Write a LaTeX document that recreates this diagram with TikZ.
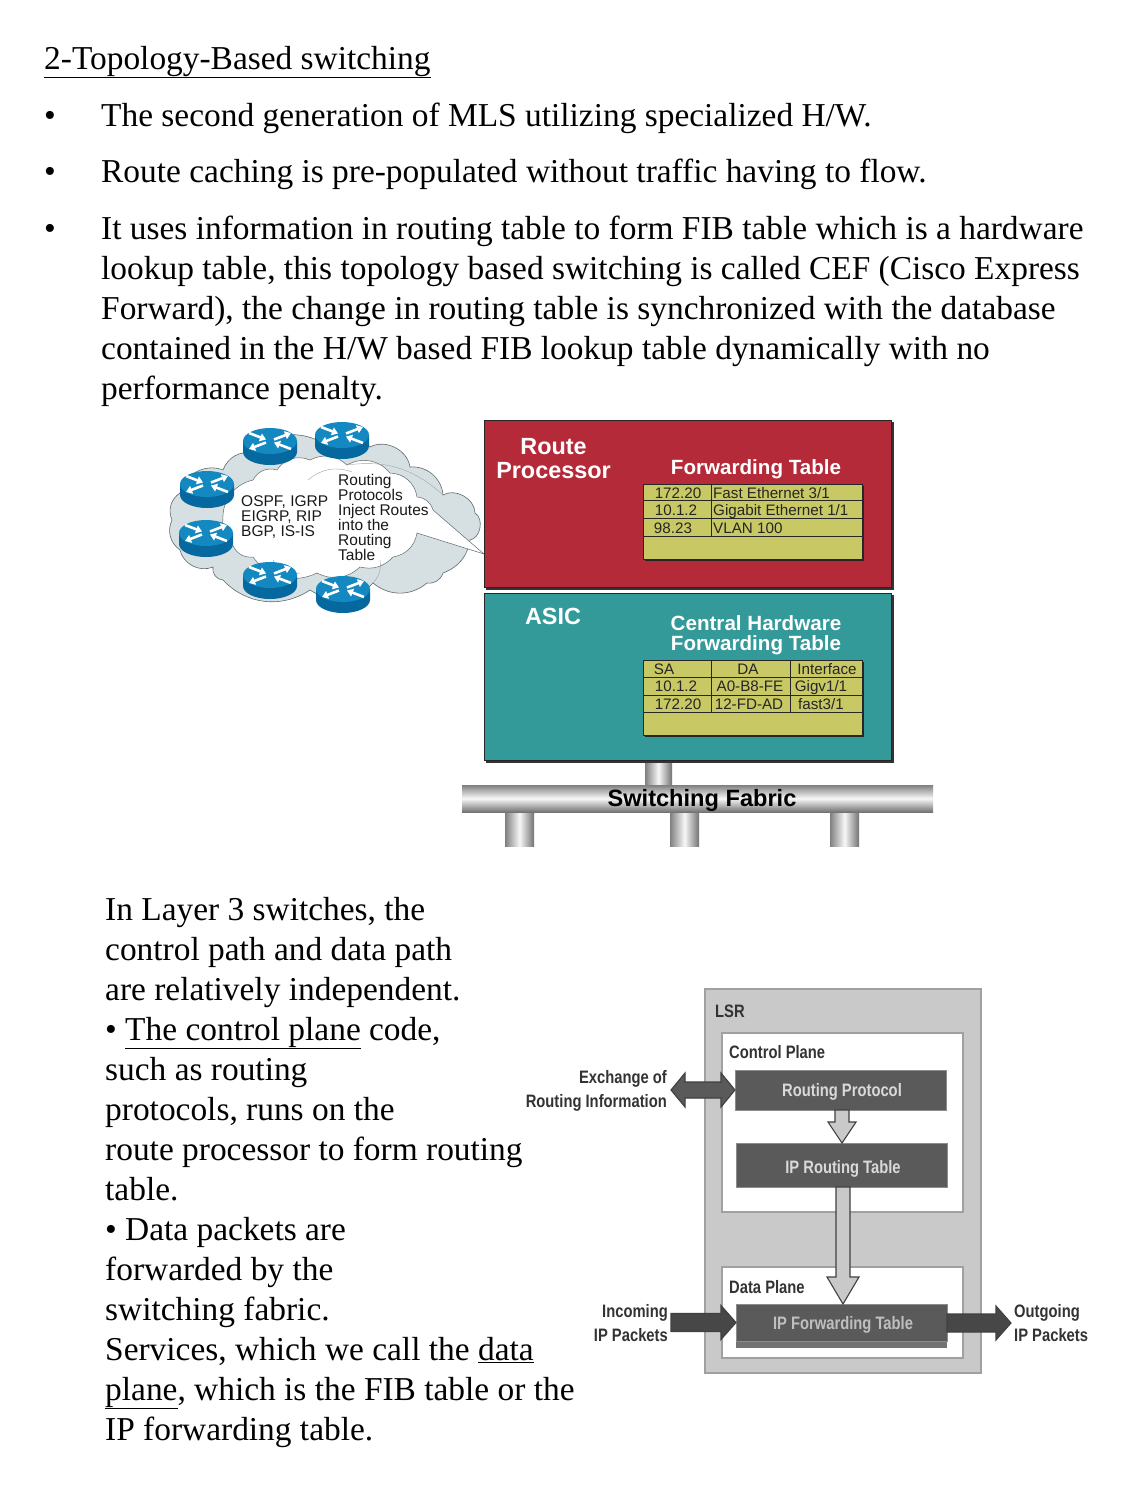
\documentclass[tikz,border=0pt]{standalone}
\usepackage{fontspec}
\setmainfont{Liberation Serif}
\newfontfamily\sansf{Liberation Sans}
\newfontfamily\sansn[FakeStretch=0.82]{Liberation Sans}
\usetikzlibrary{calc,arrows.meta}
\definecolor{rpred}{HTML}{B52A38}
\definecolor{asic}{HTML}{339999}
\definecolor{tbl}{HTML}{C8C864}
\definecolor{cloudg}{HTML}{D6DFE1}
\definecolor{cloudl}{HTML}{5F6A6E}
\definecolor{rtop}{HTML}{1488C0}
\definecolor{rside}{HTML}{05689E}
\definecolor{lsrg}{HTML}{C9C9C9}
\definecolor{lsrb}{HTML}{A0A0A0}
\definecolor{darkb}{HTML}{5A5A5A}
\tikzset{
  body/.style={anchor=base west,inner sep=0pt,font=\fontsize{33.4}{40}\selectfont},
  boxa/.style={anchor=north west,inner sep=0pt,outer sep=0pt,draw=black!85,line width=1pt},
  wtitle/.style={text=white,inner sep=0pt,align=center,font=\sansf\bfseries\fontsize{21}{24}\selectfont},
  cell/.style={anchor=base,inner sep=0pt,font=\sansf\fontsize{15.2}{15}\selectfont,text=black!85},
  small/.style={anchor=base west,inner sep=0pt,font=\sansf\fontsize{15.5}{15.5}\selectfont,text=black!90},
  gridl/.style={draw=black!85,line width=0.9pt},
  hpipe/.style={shade,top color=black!50,bottom color=black!55,middle color=black!3},
  vpipe/.style={shade,left color=black!50,right color=black!55,middle color=black!3},
  lsrlab/.style={inner sep=0pt,text=black!80,font=\sansn\bfseries\fontsize{18}{23.5}\selectfont},
  lsrbox/.style={anchor=north west,inner sep=0pt,outer sep=0pt,fill=darkb,draw=black!45,line width=0.8pt,
     text=black!15,font=\sansn\bfseries\fontsize{18}{20}\selectfont},
  plane/.style={anchor=north west,inner sep=0pt,outer sep=0pt,fill=white,draw=lsrb,line width=1.6pt},
  routerpic/.pic={
    \fill[rside] (-27,0) -- (-27,11) arc[start angle=180,end angle=0,x radius=27,y radius=13] -- (27,0) -- cycle;
    \fill[rtop] (0,0) circle[x radius=27,y radius=13];
    \draw[white,line width=2.6pt,-{Triangle[length=6pt,width=8pt]}] (-21,-8) -- (-4,-1.5);
    \draw[white,line width=2.6pt,-{Triangle[length=6pt,width=8pt]}] (21,8) -- (4,1.5);
    \draw[white,line width=2.6pt,-{Triangle[length=6pt,width=8pt]}] (4,-1.5) -- (21,-8);
    \draw[white,line width=2.6pt,-{Triangle[length=6pt,width=8pt]}] (-4,1.5) -- (-21,8);
  }
}
% block arrows between named points: start, end, half shaft, half head, head length, fill
\newcommand{\downblock}[6]{\draw[draw=black!75,fill=#6,line width=1.1pt,line join=miter]
  let \p1=(#1),\p2=(#2) in
  (\x1-#3pt,\y1) -- (\x1-#3pt,\y2+#5pt) -- (\x1-#4pt,\y2+#5pt) -- (\x1,\y2)
  -- (\x1+#4pt,\y2+#5pt) -- (\x1+#3pt,\y2+#5pt) -- (\x1+#3pt,\y1) -- cycle;}
\newcommand{\rightblock}[6]{\draw[draw=black!75,fill=#6,line width=1.1pt]
  let \p1=(#1),\p2=(#2) in
  (\x1,\y2+#3pt) -- (\x2-#5pt,\y2+#3pt) -- (\x2-#5pt,\y2+#4pt) -- (\x2,\y2)
  -- (\x2-#5pt,\y2-#4pt) -- (\x2-#5pt,\y2-#3pt) -- (\x1,\y2-#3pt) -- cycle;}
\newcommand{\bothblock}[6]{\draw[draw=black!75,fill=#6,line width=1.1pt]
  let \p1=(#1),\p2=(#2) in
  (\x1,\y2) -- (\x1+#5pt,\y2+#4pt) -- (\x1+#5pt,\y2+#3pt) -- (\x2-#5pt,\y2+#3pt) -- (\x2-#5pt,\y2+#4pt) -- (\x2,\y2)
  -- (\x2-#5pt,\y2-#4pt) -- (\x2-#5pt,\y2-#3pt) -- (\x1+#5pt,\y2-#3pt) -- (\x1+#5pt,\y2-#4pt) -- cycle;}
\begin{document}
\begin{tikzpicture}[x=1pt,y=-1pt]
\useasboundingbox[fill=white] (0,0) rectangle (1125,1500);

% upper text
\node[body] (h1) at (44,69) {\underline{2-Topology-Based switching}};
\node[body] (b1) at (44,126) {•};
\node[body] (t1) at (101,126) {The second generation of MLS utilizing specialized H/W.};
\node[body] (b2) at (44,182) {•};
\node[body] (t2) at (101,182) {Route caching is pre-populated without traffic having to flow.};
\node[body] (b3) at (44,239) {•};
\node[body] (t3) at (101,239) {It uses information in routing table to form FIB table which is a hardware};
\node[body] (t4) at (101,279) {lookup table, this topology based switching is called CEF (Cisco Express};
\node[body] (t5) at (101,319) {Forward), the change in routing table is synchronized with the database};
\node[body] (t6) at (101,359) {contained in the H/W based FIB lookup table dynamically with no};
\node[body] (t7) at (101,399) {performance penalty.};

% outer cloud
\draw[fill=cloudg,draw=cloudl,line width=0.6pt]
  (172,520) to[bend left=40] (180,493) to[bend left=50] (223,470) to[bend left=40] (253,453)
  to[bend left=35] (317,440) to[bend left=40] (370,447) to[bend left=55] (410,467)
  to[bend left=45] (443,495) to[bend left=60] (475,513) to[bend left=70] (470,540)
  to[bend left=30] (443,573) to[bend left=40] (427,583) to[bend left=40] (373,583)
  to[bend left=40] (310,590) to[bend left=40] (223,580) to[bend left=50] (213,567)
  to[bend left=50] (180,550) to[bend left=40] cycle;
% white cloud with callout tail
\draw[fill=white,draw=cloudl,line width=0.5pt]
  (223,520) to[bend left=40] (253,480) to[bend left=40] (277,470) to[bend left=40] (310,460)
  to[bend left=35] (347,465) to[bend left=40] (390,473) to[bend left=40] (417,497)
  to[bend left=35] (433,510) -- (484,554) -- (417,533) to[bend left=35] (393,557)
  to[bend left=30] (360,567) to[bend left=35] (317,573) to[bend left=40] (253,557)
  to[bend left=40] (232,543) to[bend left=40] cycle;
\draw[cloudl!60,line width=0.4pt] (308,480) to[bend left=30] (352,472);
\draw[cloudl!60,line width=0.4pt] (273,560) to[bend right=40] (300,573);
\draw[cloudl!60,line width=0.4pt] (347,465) to[bend left=25] (443,495);
\draw[cloudl!60,line width=0.4pt] (373,583) to[bend right=25] (380,560);
% routers
\pic at (270,441) {routerpic};
\pic at (342,435) {routerpic};
\pic at (207,484) {routerpic};
\pic at (206,533) {routerpic};
\pic at (270,575) {routerpic};
\pic at (343,589) {routerpic};
% cloud texts
\node[small] (c1) at (241,506) {OSPF, IGRP};
\node[small] (c2) at (241,521) {EIGRP, RIP};
\node[small] (c3) at (241,536) {BGP, IS-IS};
\node[small] (d1) at (338,485) {Routing};
\node[small] (d2) at (338,500) {Protocols};
\node[small] (d3) at (338,515) {Inject Routes};
\node[small] (d4) at (338,530) {into the};
\node[small] (d5) at (338,545) {Routing};
\node[small] (d6) at (338,560) {Table};

% route processor
\fill[black!80] (486,422) rectangle (893.5,589.5);
\node[boxa,fill=rpred,minimum width=407pt,minimum height=167pt] (rp) at (484.5,420.5) {};
\node[wtitle,font=\sansf\bfseries\fontsize{23.4}{23.5}\selectfont] (rpt) at (553.5,458.5) {Route\\Processor};
\node[wtitle,anchor=base,font=\sansf\bfseries\fontsize{20.6}{20}\selectfont] (ft) at (756,474.5) {Forwarding Table};
\fill[black!85] (645,486) rectangle (864,561);
\node[anchor=north west,inner sep=0pt,outer sep=0pt,fill=tbl,draw=black!85,line width=0.9pt,minimum width=219pt,minimum height=75pt] (tb1) at (643,484) {};
\draw[gridl] (643,500.5) -- (862,500.5) (643,518) -- (862,518) (643,536) -- (862,536) (711,484) -- (711,536);
\node[cell] (a1) at (678,498) {172.20};
\node[cell,anchor=base west] (a2) at (713,498) {Fast Ethernet 3/1};
\node[cell] (a3) at (676,515.5) {10.1.2};
\node[cell,anchor=base west] (a4) at (713,515.5) {Gigabit Ethernet 1/1};
\node[cell] (a5) at (673,533) {98.23};
\node[cell,anchor=base west] (a6) at (713,533) {VLAN 100};

% ASIC
\fill[black!80] (486,595) rectangle (893.5,762.5);
\node[boxa,fill=asic,minimum width=407pt,minimum height=167pt] (as) at (484.5,593.5) {};
\node[wtitle,font=\sansf\bfseries\fontsize{23.4}{23}\selectfont] (ast) at (553,616) {ASIC};
\node[wtitle,font=\sansf\bfseries\fontsize{20.6}{20.5}\selectfont] (cht) at (756,635) {Central Hardware\\Forwarding Table};
\fill[black!85] (645,662) rectangle (864,737);
\node[anchor=north west,inner sep=0pt,outer sep=0pt,fill=tbl,draw=black!85,line width=0.9pt,minimum width=219pt,minimum height=75pt] (tb2) at (643,660) {};
\draw[gridl] (643,677) -- (862,677) (643,695) -- (862,695) (643,712) -- (862,712) (711,660) -- (711,712) (790,660) -- (790,712);
\node[cell] (e1) at (664,674) {SA};
\node[cell] (e2) at (748,674) {DA};
\node[cell] (e3) at (827,674) {Interface};
\node[cell] (e4) at (676,691.5) {10.1.2};
\node[cell] (e5) at (750,691.5) {A0-B8-FE};
\node[cell] (e6) at (821,691.5) {Gigv1/1};
\node[cell] (e7) at (678,709) {172.20};
\node[cell] (e8) at (749,709) {12-FD-AD};
\node[cell] (e9) at (821,709) {fast3/1};

% switching fabric
\path[vpipe] (645,763) rectangle (672,785);
\path[vpipe] (505,812) rectangle (534,846);
\path[vpipe] (670,812) rectangle (699,846);
\path[vpipe] (830,812) rectangle (859,846);
\path[hpipe] (462,785) rectangle (933,812);
\node[inner sep=0pt,anchor=base,text=black,font=\sansf\bfseries\fontsize{23.6}{23}\selectfont] (sf) at (702,806.5) {Switching Fabric};

% lower text
\node[body] (l1) at (105,920) {In Layer 3 switches, the};
\node[body] (l2) at (105,960) {control path and data path};
\node[body] (l3) at (105,1000) {are relatively independent.};
\node[body] (l4) at (105,1040) {• \underline{The control plane} code,};
\node[body] (l5) at (105,1080) {such as routing};
\node[body] (l6) at (105,1120) {protocols, runs on the};
\node[body] (l7) at (105,1160) {route processor to form routing};
\node[body] (l8) at (105,1200) {table.};
\node[body] (l9) at (105,1240) {• Data packets are};
\node[body] (l10) at (105,1280) {forwarded by the};
\node[body] (l11) at (105,1320) {switching fabric.};
\node[body] (l12) at (105,1360) {Services, which we call the \underline{data}};
\node[body] (l13) at (105,1400) {\underline{plane}, which is the FIB table or the};
\node[body] (l14) at (105,1440) {IP forwarding table.};

% LSR diagram
\node[anchor=north west,inner sep=0pt,outer sep=0pt,fill=lsrg,draw=lsrb,line width=2pt,minimum width=276pt,minimum height=384pt] (lsr) at (705,988.5) {};
\node[lsrlab,anchor=west] (lsrt) at (715,1011) {LSR};
\node[plane,minimum width=241pt,minimum height=179pt] (cp) at (722,1033) {};
\node[plane,minimum width=241pt,minimum height=91pt] (dp) at (722,1267) {};
\node[lsrlab,anchor=west] (cpt) at (729,1052) {Control Plane};
\node[lsrlab,anchor=west] (dpt) at (729,1287) {Data Plane};
\node[lsrbox,minimum width=211pt,minimum height=40pt] (rpr) at (735,1070) {\hspace*{3pt}\raisebox{-6.5pt}[0pt][0pt]{Routing Protocol}};
\node[lsrbox,minimum width=211pt,minimum height=44pt] (irt) at (736,1143) {\hspace*{3pt}\raisebox{-8.5pt}[0pt][0pt]{IP Routing Table}};
\fill[black!55] (736,1340) rectangle (947,1348);
\node[lsrbox,minimum width=211pt,minimum height=37pt,text=black!25] (ipf) at (736,1304) {\hspace*{3pt}\raisebox{-7pt}[0pt][0pt]{IP Forwarding Table}};
\downblock{$(rpr.south)+(1.5,0)$}{irt.north}{7}{14}{21}{lsrg}
\downblock{$(irt.south)+(1.5,0)$}{ipf.north}{7}{16}{27}{lsrg}
\coordinate (exl) at (671,1091);
\coordinate (inl) at (671,1323);
\coordinate (outr) at (1011,1323);
\bothblock{exl}{rpr.west}{8}{17}{14}{darkb}
\rightblock{inl}{ipf.west}{9}{17}{15}{black!72}
\rightblock{ipf.east}{outr}{9}{17}{15}{black!72}
\node[lsrlab,anchor=east,align=right] (exch) at (667,1091) {Exchange of\\Routing Information};
\node[lsrlab,anchor=east,align=right] (inc) at (668,1323) {Incoming\\IP Packets};
\node[lsrlab,anchor=west,align=left] (outg) at (1014,1323) {Outgoing\\IP Packets};
\end{tikzpicture}
\end{document}
